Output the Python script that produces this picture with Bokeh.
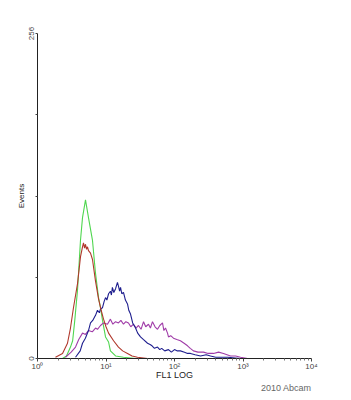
from bokeh.plotting import figure
from bokeh.models import Range1d, FixedTicker, CustomJSTickFormatter, Title
from bokeh.embed import file_html
from bokeh.resources import INLINE

# FL1 (log scale) positions and event counts
green_x = [2.32, 2.65, 3.03, 3.26, 3.5, 3.84, 4.24, 4.54, 5.02, 5.55, 6.35, 7.03, 7.78, 8.31, 8.89, 9.84, 10.9, 11.6, 13.8, 18.0, 27.0]
green_y = [0, 2, 9, 14, 30, 54, 93, 111, 125, 111, 93, 67, 48, 40, 30, 17, 13, 6, 2, 1, 0]

red_x = [1.83, 2.32, 2.74, 3.03, 3.35, 3.84, 4.24, 4.54, 4.69, 4.86, 5.02, 5.2, 5.37, 5.55, 5.94, 6.35, 7.03, 7.78, 8.5, 9.2, 10.0, 10.9, 12.9, 15.2, 17.5, 20.6, 24.0, 28.8, 40.4]
red_y = [1, 4, 12, 24, 40, 59, 80, 88, 91, 87, 90, 86, 88, 85, 83, 78, 61, 47, 38, 31, 25, 20, 14, 9, 6, 4, 2, 1, 0]

blue_x = [3.59, 4.2, 4.54, 5.0, 5.55, 5.94, 6.4, 7.03, 7.51, 8.0, 8.31, 8.89, 9.4, 9.84, 10.3, 10.9, 11.6, 12.0, 12.4, 13.0, 13.8, 14.7, 15.2, 15.8, 16.3, 17.0, 18.0, 19.2, 20.6, 21.5, 22.8, 24.5, 27.0, 29.0, 31.9, 35.0, 40.4, 44.0, 47.0, 51.0, 56.5, 61.0, 65.0, 72.0, 81.7, 90.0, 100.0, 110.0, 122.0, 140.0, 155.0, 171.0, 200.0, 240.0, 290.0, 336.0, 400.0, 470.0, 600.0, 920.0]
blue_y = [1, 6, 12, 16, 22, 28, 30, 34, 38, 36, 39, 40, 45, 48, 46, 51, 53, 50, 56, 52, 55, 60, 57, 53, 56, 51, 52, 46, 43, 38, 35, 28, 24, 20, 17, 15, 12, 11, 10, 8, 9, 7, 8, 6, 7, 5, 7, 6, 6, 5, 4, 4, 3, 2, 3, 2, 1, 1, 1, 0]

purple_x = [2.56, 3.1, 3.59, 4.0, 4.54, 5.0, 5.55, 6.3, 7.03, 7.51, 8.31, 9.2, 10.5, 11.6, 12.6, 13.8, 15.2, 16.5, 18.0, 19.5, 21.3, 23.0, 25.2, 27.5, 29.8, 32.5, 35.3, 38.0, 41.7, 44.5, 47.7, 52.0, 56.5, 61.0, 66.8, 70.0, 73.9, 79.1, 81.7, 88.0, 96.6, 108.0, 122.0, 138.0, 155.0, 170.0, 189.0, 220.0, 265.0, 310.0, 371.0, 440.0, 519.0, 658.0, 780.0, 920.0, 1165.0]
purple_y = [1, 5, 9, 15, 20, 19, 22, 21, 24, 23, 26, 28, 27, 31, 27, 29, 28, 30, 27, 29, 28, 25, 27, 24, 26, 23, 29, 25, 27, 24, 29, 25, 23, 26, 28, 22, 24, 20, 17, 18, 16, 15, 14, 12, 10, 8, 6, 5, 5, 4, 4, 5, 4, 2, 2, 1, 0]

x_ticks = [1, 10, 100, 1000, 10000]
x_minor = [m * d for d in [1, 10, 100, 1000] for m in range(2, 10)]
y_ticks = [0, 64, 128, 192, 256]

FONT = "Liberation Sans"

p = figure(width=351, height=400, x_axis_type="log",
           x_range=Range1d(1, 10000), y_range=Range1d(0, 256),
           output_backend="svg", toolbar_location=None,
           min_border_left=37, min_border_right=40, min_border_top=33, min_border_bottom=42)
p.outline_line_color = None
p.xgrid.visible = False
p.ygrid.visible = False
p.background_fill_color = "white"
p.border_fill_color = "white"

p.line(green_x, green_y, line_color="#4fd64f", line_width=1.1)
p.line(purple_x, purple_y, line_color="#a03ca8", line_width=1.1)
p.line(blue_x, blue_y, line_color="#1e1e8e", line_width=1.1)
p.line(red_x, red_y, line_color="#b0382c", line_width=1.1)

xa = p.xaxis[0]
xa.ticker = FixedTicker(ticks=x_ticks, minor_ticks=x_minor)
xa.formatter = CustomJSTickFormatter(code="""
const sup = ['\u2070','\u00b9','\u00b2','\u00b3','\u2074'];
return '10' + sup[Math.round(Math.log10(tick))];
""")
xa.axis_label = "FL1 LOG"
xa.axis_label_text_font = FONT
xa.axis_label_text_font_style = "normal"
xa.axis_label_text_font_size = "9px"
xa.axis_label_text_color = "#222222"
xa.axis_label_standoff = -4
xa.major_label_text_font = FONT
xa.major_label_text_font_size = "8px"
xa.major_label_text_color = "#444444"
xa.major_label_standoff = 0
xa.major_tick_in = 0
xa.major_tick_out = 3
xa.minor_tick_in = 0
xa.minor_tick_out = 2
xa.axis_line_color = "#222222"
xa.major_tick_line_color = "#444444"
xa.minor_tick_line_color = "#777777"

ya = p.yaxis[0]
ya.ticker = FixedTicker(ticks=y_ticks)
ya.formatter = CustomJSTickFormatter(code="""
return (tick == 0 || tick == 256) ? String(tick) : '';
""")
ya.major_label_orientation = "vertical"
ya.axis_label = "Events"
ya.axis_label_text_font = FONT
ya.axis_label_text_font_style = "normal"
ya.axis_label_text_font_size = "8px"
ya.axis_label_text_color = "#222222"
ya.axis_label_standoff = 0
ya.major_label_text_font = FONT
ya.major_label_text_font_size = "8px"
ya.major_label_text_color = "#444444"
ya.major_label_standoff = 2
ya.major_tick_in = 0
ya.major_tick_out = 2
ya.minor_tick_line_color = None
ya.axis_line_color = "#222222"
ya.major_tick_line_color = "#444444"

p.add_layout(Title(text="2010 Abcam", align="right", text_font=FONT,
                   text_font_size="9px", text_font_style="normal",
                   text_color="#666666", standoff=-3), "below")

open("out.html", "w").write(file_html(p, INLINE))
